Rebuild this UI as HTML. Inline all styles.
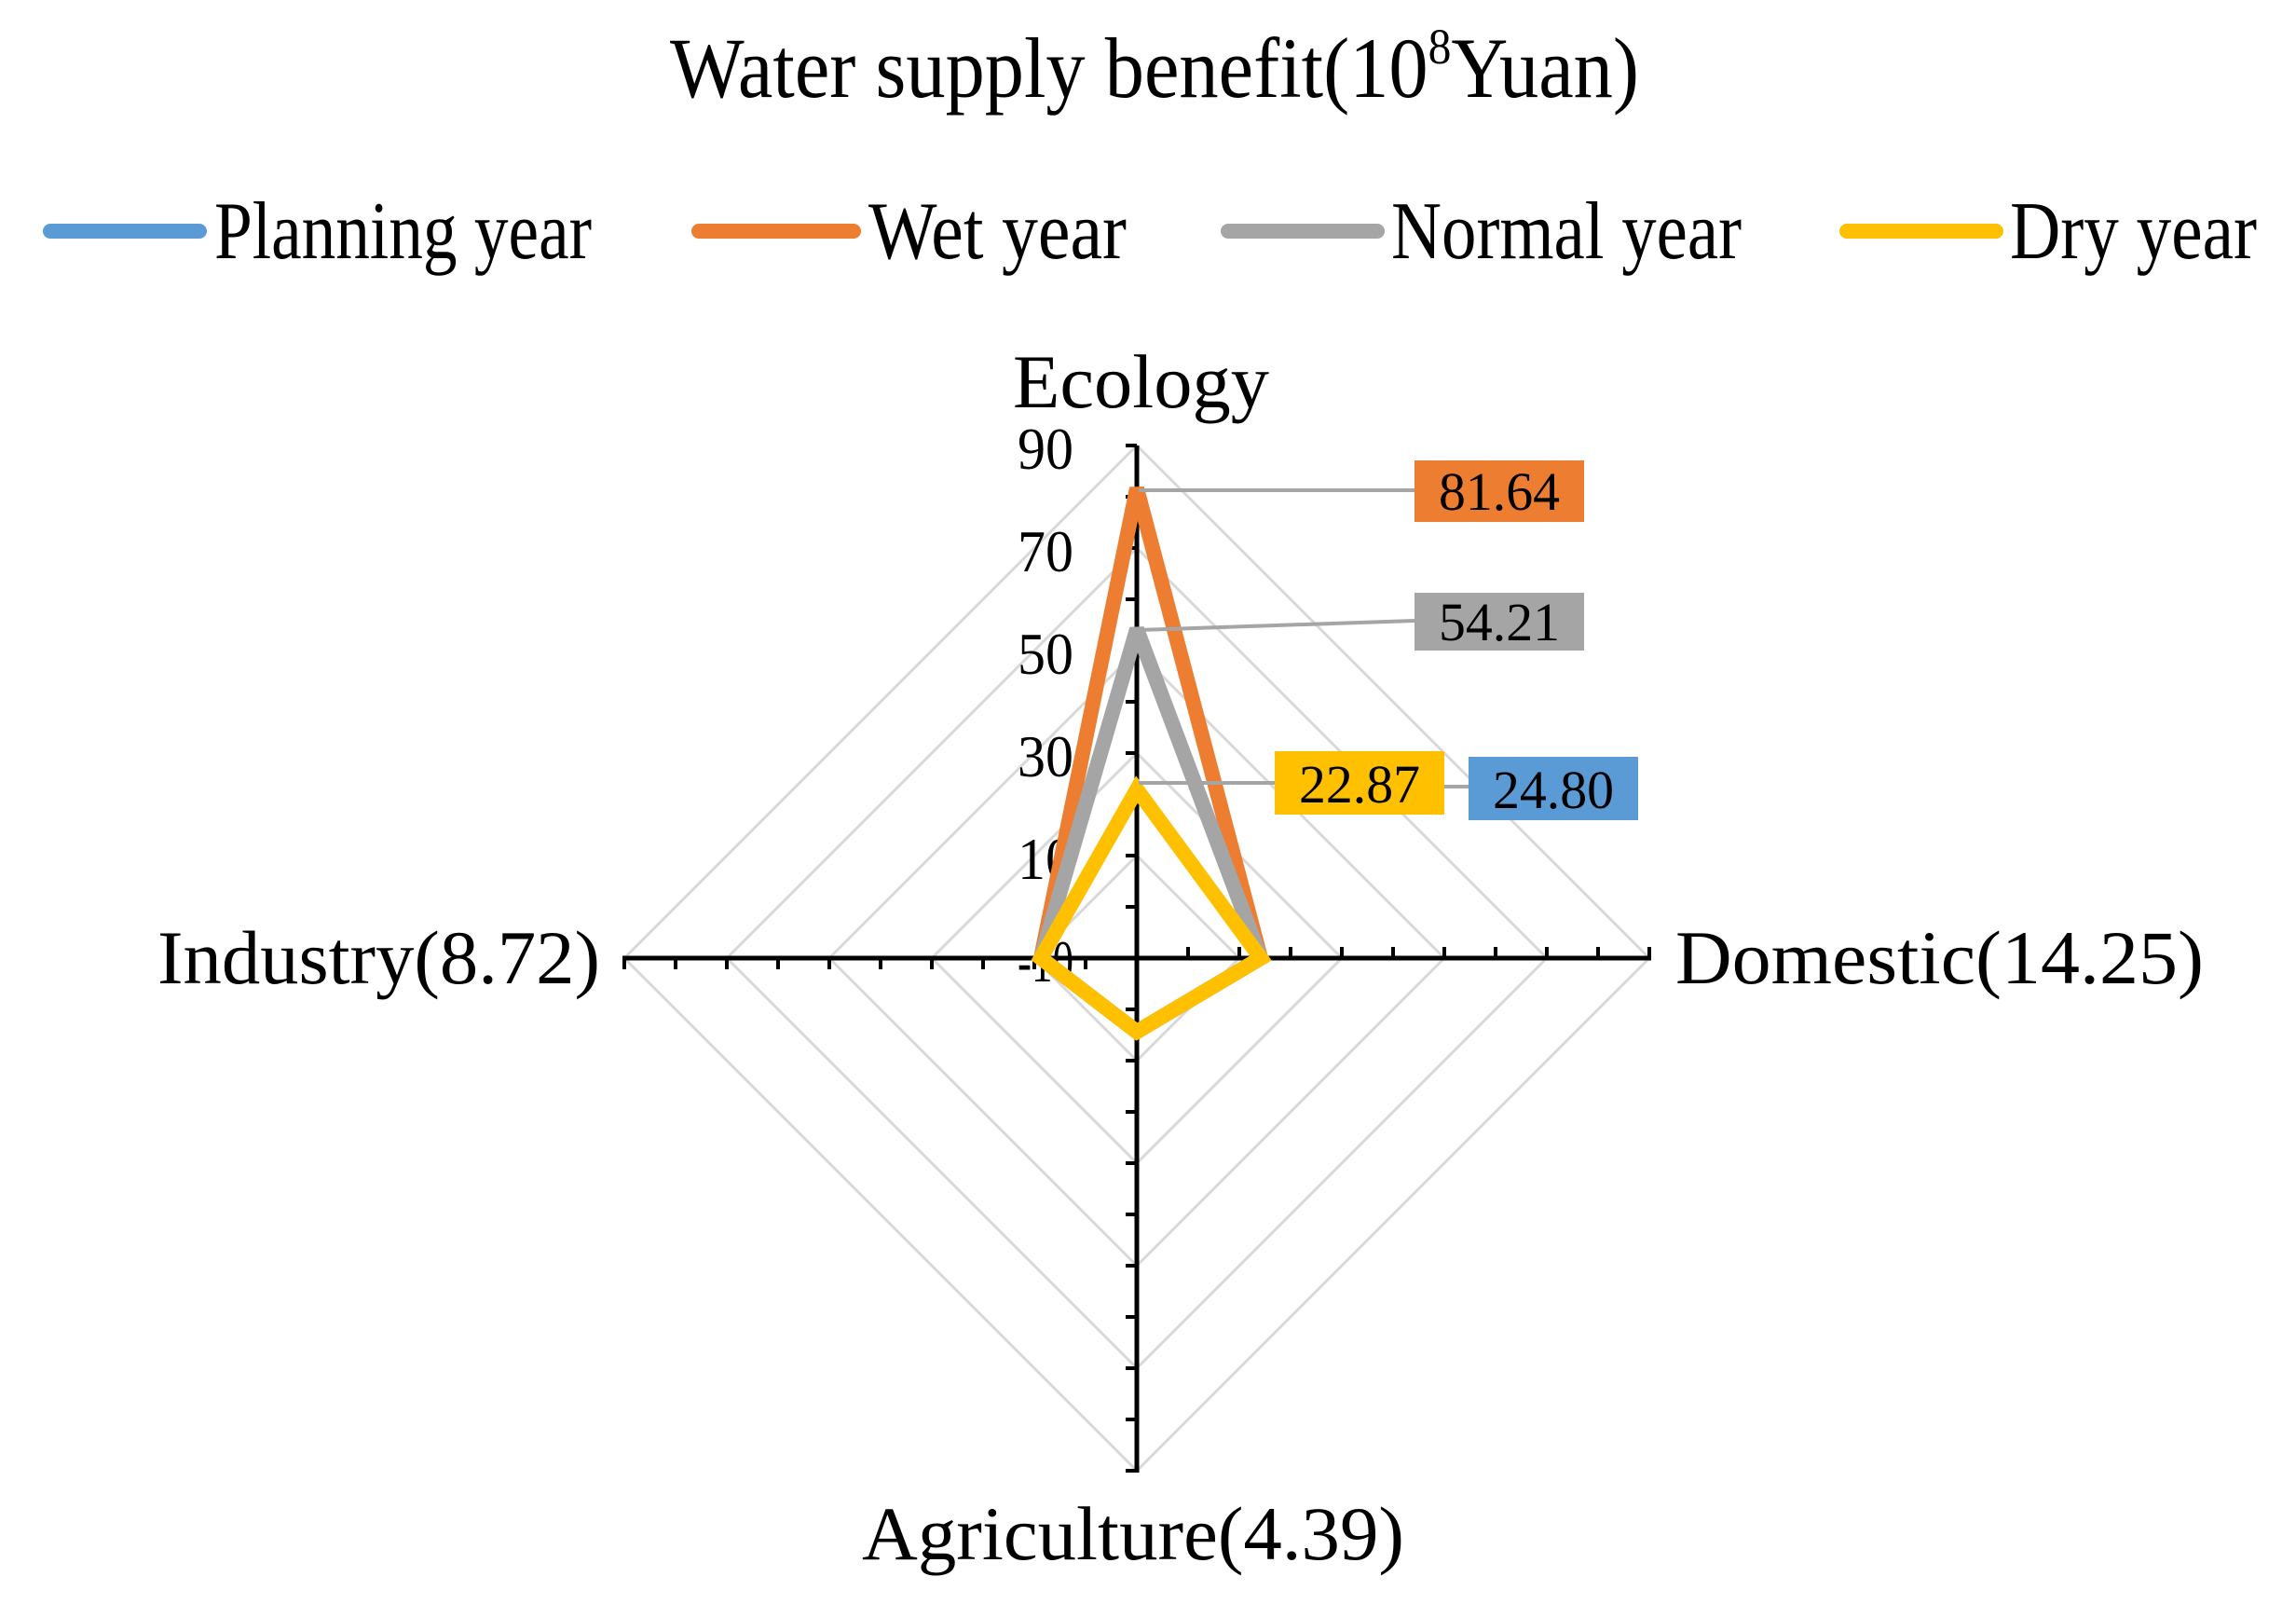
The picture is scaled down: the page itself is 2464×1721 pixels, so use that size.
<!DOCTYPE html>
<html><head><meta charset="utf-8"><style>
html,body{margin:0;padding:0;background:#fff;}
svg{display:block;}
text{font-family:"Liberation Serif",serif;fill:#000;}
</style></head><body>
<svg width="2464" height="1721" viewBox="0 0 2464 1721" xmlns="http://www.w3.org/2000/svg">
<rect width="2464" height="1721" fill="#fff"/>
<text x="719" y="104" font-size="92" textLength="1040" lengthAdjust="spacingAndGlyphs">Water supply benefit(10<tspan font-size="54" dy="-36">8</tspan><tspan dy="36">Yuan)</tspan></text>
<g stroke-width="16" stroke-linecap="round">
<line x1="54" y1="248" x2="214" y2="248" stroke="#5b9bd5"/>
<line x1="750" y1="248" x2="916" y2="248" stroke="#ed7d31"/>
<line x1="1318" y1="248" x2="1478" y2="248" stroke="#a5a5a5"/>
<line x1="1982" y1="248" x2="2142" y2="248" stroke="#ffc000"/>
</g>
<g font-size="88">
<text x="230" y="277" textLength="405" lengthAdjust="spacingAndGlyphs">Planning year</text>
<text x="932" y="277" textLength="277" lengthAdjust="spacingAndGlyphs">Wet year</text>
<text x="1493" y="277" textLength="376" lengthAdjust="spacingAndGlyphs">Normal year</text>
<text x="2157" y="277" textLength="265" lengthAdjust="spacingAndGlyphs">Dry year</text>
</g>
<g fill="none" stroke="#d9d9d9" stroke-width="3">
<path d="M1220,918 L1330,1028 L1220,1138 L1110,1028Z"/>
<path d="M1220,808 L1440,1028 L1220,1248 L1000,1028Z"/>
<path d="M1220,698 L1550,1028 L1220,1358 L890,1028Z"/>
<path d="M1220,588 L1660,1028 L1220,1468 L780,1028Z"/>
<path d="M1220,478 L1770,1028 L1220,1578 L670,1028Z"/>
</g>
<g stroke="#000" stroke-width="5">
<line x1="1220" y1="478" x2="1220" y2="1580"/>
<line x1="668" y1="1028" x2="1772" y2="1028"/>
</g>
<g stroke="#000" stroke-width="4">
<path d="M1208,478H1220 M1208,533H1220 M1208,588H1220 M1208,643H1220 M1208,698H1220 M1208,753H1220 M1208,808H1220 M1208,863H1220 M1208,918H1220 M1208,973H1220"/>
<path d="M1208,1083H1220 M1208,1138H1220 M1208,1193H1220 M1208,1248H1220 M1208,1303H1220 M1208,1358H1220 M1208,1413H1220 M1208,1468H1220 M1208,1523H1220 M1208,1578H1220"/>
<path d="M1275,1016V1028 M1330,1016V1028 M1385,1016V1028 M1440,1016V1028 M1495,1016V1028 M1550,1016V1028 M1605,1016V1028 M1660,1016V1028 M1715,1016V1028 M1770,1016V1028"/>
<path d="M1165,1028V1040 M1110,1028V1040 M1055,1028V1040 M1000,1028V1040 M945,1028V1040 M890,1028V1040 M835,1028V1040 M780,1028V1040 M725,1028V1040 M670,1028V1040"/>
</g>
<g font-size="64" text-anchor="end">
<text x="1152" y="503" textLength="60" lengthAdjust="spacingAndGlyphs">90</text>
<text x="1152" y="613" textLength="60" lengthAdjust="spacingAndGlyphs">70</text>
<text x="1152" y="723" textLength="60" lengthAdjust="spacingAndGlyphs">50</text>
<text x="1152" y="833" textLength="60" lengthAdjust="spacingAndGlyphs">30</text>
<text x="1152" y="943" textLength="60" lengthAdjust="spacingAndGlyphs">10</text>
<text x="1152" y="1053" textLength="60" lengthAdjust="spacingAndGlyphs">-10</text>
</g>
<g font-size="82">
<text x="1087" y="437" textLength="275" lengthAdjust="spacingAndGlyphs">Ecology</text>
<text x="169" y="1055" textLength="475" lengthAdjust="spacingAndGlyphs">Industry(8.72)</text>
<text x="1798" y="1055" textLength="567" lengthAdjust="spacingAndGlyphs">Domestic(14.25)</text>
<text x="925" y="1673" textLength="582" lengthAdjust="spacingAndGlyphs">Agriculture(4.39)</text>
</g>
<g fill="none" stroke-linejoin="miter" stroke-miterlimit="2.5">
<path d="M1220,837 L1353,1028 L1220,1107 L1117,1028Z" stroke="#5b9bd5" stroke-width="4"/>
<path d="M1220,524 L1353,1028 L1220,1107 L1117,1028Z" stroke="#ed7d31" stroke-width="16"/>
<path d="M1220,675 L1353,1028 L1220,1107 L1117,1028Z" stroke="#a5a5a5" stroke-width="16"/>
<path d="M1220,847 L1353,1028 L1220,1107 L1117,1028Z" stroke="#ffc000" stroke-width="16"/>
</g>
<g stroke="#a5a5a5" stroke-width="4">
<line x1="1222" y1="526" x2="1518" y2="526"/>
<line x1="1222" y1="676" x2="1518" y2="666"/>
<line x1="1222" y1="840" x2="1368" y2="840"/>
<line x1="1550" y1="844" x2="1576" y2="844"/>
</g>
<rect x="1518" y="494" width="182" height="66" fill="#ed7d31"/>
<rect x="1518" y="636" width="182" height="62" fill="#a5a5a5"/>
<rect x="1368" y="806" width="182" height="68" fill="#ffc000"/>
<rect x="1576" y="812" width="182" height="68" fill="#5b9bd5"/>
<g font-size="58" text-anchor="middle">
<text x="1609" y="547" textLength="130" lengthAdjust="spacingAndGlyphs">81.64</text>
<text x="1609" y="687" textLength="130" lengthAdjust="spacingAndGlyphs">54.21</text>
<text x="1459" y="861" textLength="130" lengthAdjust="spacingAndGlyphs">22.87</text>
<text x="1667" y="867" textLength="130" lengthAdjust="spacingAndGlyphs">24.80</text>
</g>
</svg>
</body></html>
